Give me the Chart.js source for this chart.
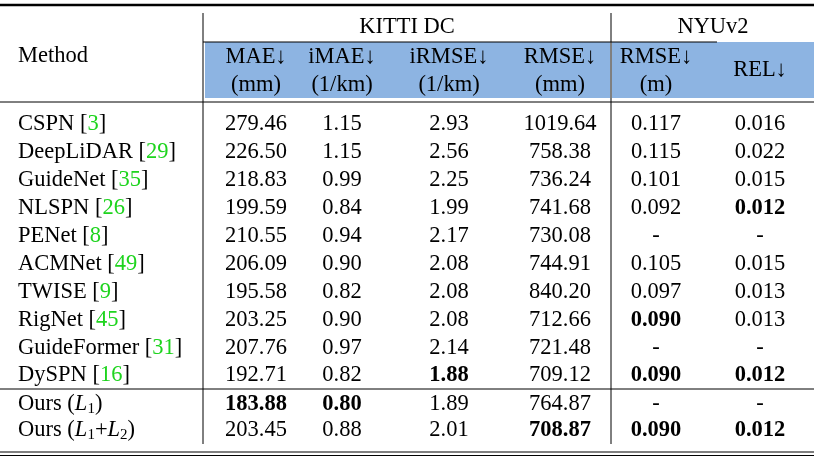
<!DOCTYPE html>
<html>
<head>
<script src="https://cdn.jsdelivr.net/npm/chart.js@4"></script>
<style>body{margin:0;background:#fff}#wrap{width:814px;height:460px}</style>
</head>
<body>
<div id="wrap"><canvas id="chart"></canvas></div>
<script>
// Table data
const methods = ['CSPN', 'DeepLiDAR', 'GuideNet', 'NLSPN', 'PENet', 'ACMNet', 'TWISE', 'RigNet', 'GuideFormer', 'DySPN'];
const cites = ['3', '29', '35', '26', '8', '49', '9', '45', '31', '16'];
const mae = ['279.46', '226.50', '218.83', '199.59', '210.55', '206.09', '195.58', '203.25', '207.76', '192.71', '183.88', '203.45'];
const imae = ['1.15', '1.15', '0.99', '0.84', '0.94', '0.90', '0.82', '0.90', '0.97', '0.82', '0.80', '0.88'];
const irmse = ['2.93', '2.56', '2.25', '1.99', '2.17', '2.08', '2.08', '2.08', '2.14', '1.88', '1.89', '2.01'];
const rmse = ['1019.64', '758.38', '736.24', '741.68', '730.08', '744.91', '840.20', '712.66', '721.48', '709.12', '764.87', '708.87'];
const nyuRmse = ['0.117', '0.115', '0.101', '0.092', '-', '0.105', '0.097', '0.090', '-', '0.090', '-', '0.090'];
const nyuRel = ['0.016', '0.022', '0.015', '0.012', '-', '0.015', '0.013', '0.013', '-', '0.012', '-', '0.012'];
// bold cells: "column:row"
const bold = ['5:3', '4:7', '2:9', '4:9', '5:9', '0:10', '1:10', '3:11', '4:11', '5:11'];
const headers = [['MAE↓', '(mm)'], ['iMAE↓', '(1/km)'], ['iRMSE↓', '(1/km)'], ['RMSE↓', '(mm)'], ['RMSE↓', '(m)'], ['REL↓', '']];

const colX = [256, 342, 449, 560, 656, 760];
const rowY = [124, 152, 180, 208, 236, 264, 292, 320, 348, 375, 404, 430];
const cols = [mae, imae, irmse, rmse, nyuRmse, nyuRel];

const serif = '"Liberation Serif", "DejaVu Serif", serif';
const size = 22.5;
const f = (pre, s) => (pre || '') + (s || size) + 'px ' + serif;

const tablePlugin = {
  id: 'table',
  afterDraw(chart) {
    const ctx = chart.ctx;
    const X = v => chart.scales.x.getPixelForValue(v);
    const Y = v => chart.scales.y.getPixelForValue(v);
    const line = (x1, y1, x2, y2, w) => {
      ctx.beginPath(); ctx.lineWidth = w; ctx.strokeStyle = '#000';
      ctx.moveTo(X(x1), Y(y1)); ctx.lineTo(X(x2), Y(y2)); ctx.stroke();
    };
    ctx.save();
    // header background
    ctx.fillStyle = '#8db4e2';
    ctx.fillRect(X(205), Y(42), X(610) - X(205), Y(98) - Y(42));
    ctx.fillRect(X(612), Y(42), X(814) - X(612), Y(98) - Y(42));
    // rules
    line(0, 5, 814, 5, 2.5);
    line(203, 42, 717, 42, 1);
    line(0, 102, 814, 102, 1);
    line(0, 389, 814, 389, 1);
    line(0, 452, 814, 452, 1.2);
    line(0, 455.5, 814, 455.5, 1.2);
    line(203, 13, 203, 444, 1);
    line(611, 13, 611, 444, 1);

    ctx.fillStyle = '#000';
    ctx.textBaseline = 'middle';
    ctx.font = f();
    ctx.textAlign = 'center';
    ctx.fillText('KITTI DC', X(407), Y(27));
    ctx.fillText('NYUv2', X(713), Y(27));
    ctx.textAlign = 'left';
    ctx.fillText('Method', X(18), Y(56));
    ctx.textAlign = 'center';
    headers.forEach((h, i) => {
      if (h[1]) {
        ctx.fillText(h[0], X(colX[i]), Y(57));
        ctx.fillText(h[1], X(colX[i]), Y(85));
      } else {
        ctx.fillText(h[0], X(colX[i]), Y(70));
      }
    });
    // method names
    ctx.textAlign = 'left';
    methods.forEach((m, r) => {
      let x = X(18);
      const parts = [[m + ' [', '#000'], [cites[r], '#1ed41e'], [']', '#000']];
      parts.forEach(([t, c]) => {
        ctx.fillStyle = c; ctx.fillText(t, x, Y(rowY[r])); x += ctx.measureText(t).width;
      });
    });
    // Ours rows
    const ours = (r, withL2) => {
      let x = X(18);
      const y = Y(rowY[r]);
      ctx.fillStyle = '#000';
      const put = (t, font, dy) => { ctx.font = font; ctx.fillText(t, x, y + dy); x += ctx.measureText(t).width; };
      put('Ours (', f(), 0);
      put('L', f('italic '), 0);
      put('1', f('', 15), 5);
      if (withL2) {
        put('+', f(), 0);
        put('L', f('italic '), 0);
        put('2', f('', 15), 5);
      }
      put(')', f(), 0);
    };
    ours(10, false);
    ours(11, true);
    // values
    ctx.textAlign = 'center';
    ctx.fillStyle = '#000';
    cols.forEach((col, c) => {
      col.forEach((v, r) => {
        ctx.font = f(bold.includes(c + ':' + r) ? 'bold ' : '');
        ctx.fillText(v, X(colX[c]), Y(rowY[r]));
      });
    });
    ctx.restore();
  }
};

new Chart(document.getElementById('chart'), {
  type: 'scatter',
  data: { datasets: [{ data: [] }] },
  options: {
    responsive: true,
    maintainAspectRatio: false,
    animation: false,
    layout: { padding: 0 },
    plugins: { legend: { display: false }, tooltip: { enabled: false } },
    scales: {
      x: { type: 'linear', min: 0, max: 814, display: false },
      y: { type: 'linear', min: 0, max: 460, reverse: true, display: false }
    }
  },
  plugins: [tablePlugin]
});
</script>
</body>
</html>
